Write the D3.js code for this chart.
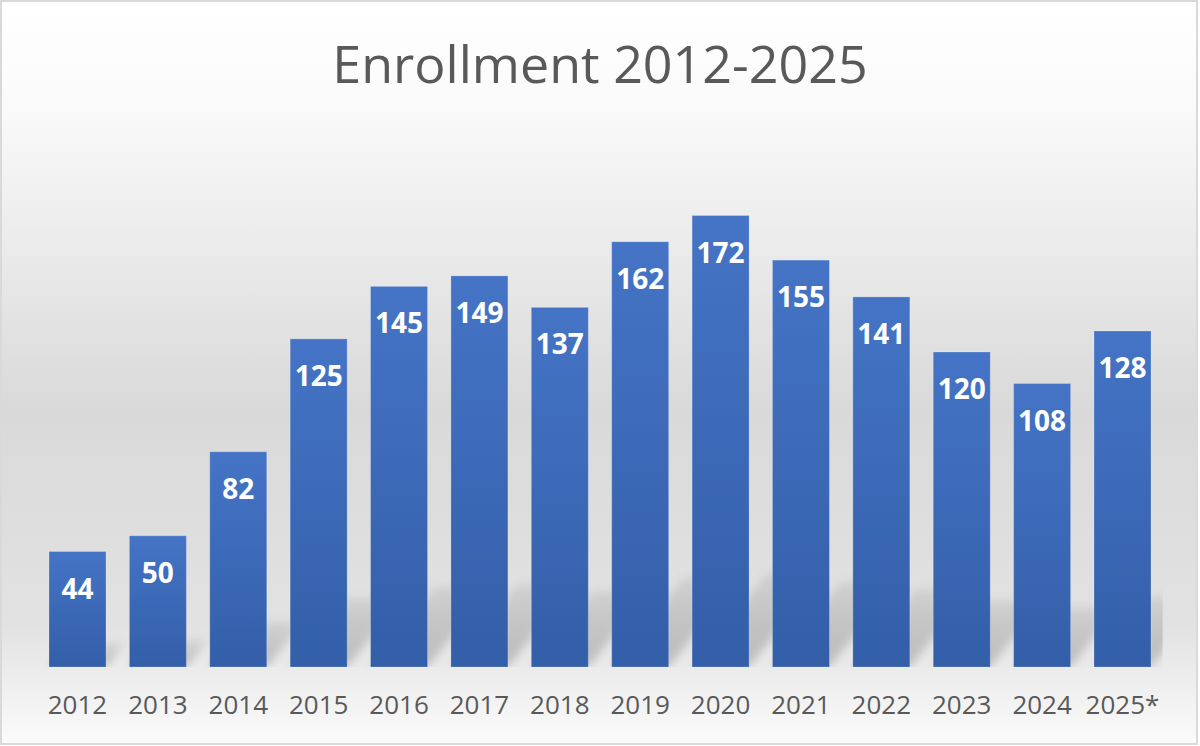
<!DOCTYPE html>
<html>
<head>
<meta charset="utf-8">
<script src="https://cdn.jsdelivr.net/npm/d3@7"></script>
<style>
    html, body { margin: 0; padding: 0; background: #ffffff; }
    svg { display: block; }
</style>
</head>
<body>
<svg id="enrollment-chart"></svg>
<script>
// Categories (years) shown along the X-axis
const years = ["2012", "2013", "2014", "2015", "2016", "2017", "2018", "2019", "2020", "2021", "2022", "2023", "2024", "2025*"];
// Enrollment value for each year
const enrollment = [44, 50, 82, 125, 145, 149, 137, 162, 172, 155, 141, 120, 108, 128];
// Value axis bounds (axis itself is hidden in the chart)
const value_domain = [0, 200];
const chart_title = "Enrollment 2012-2025";

// Build the bar dataset from the arrays above
const bar_data = years.map((year, i) => ({ year: year, value: enrollment[i] }));

// Configure the dimensions of the chart
const chart_width = 1200, chart_height = 746;
const plot = { left: 37.3, right: 1162.7, top: 142, bottom: 667 };

// Scales for the X-axis (years) and Y-axis (enrollment)
const x_scale = d3.scaleBand()
    .domain(years)
    .range([plot.left, plot.right])
    .paddingInner(0.291)
    .paddingOuter(0.1455);
const y_scale = d3.scaleLinear()
    .domain(value_domain)
    .range([plot.bottom, plot.top]);

// Create the chart container
const svg = d3.select("#enrollment-chart")
    .attr("width", chart_width)
    .attr("height", chart_height);

const defs = svg.append("defs");

// Chart background gradient (white -> grey -> white)
const bg_gradient = defs.append("linearGradient")
    .attr("id", "bg-gradient")
    .attr("x1", 0).attr("y1", 0).attr("x2", 0).attr("y2", 1);
[[0, "#ffffff"], [0.14, "#fafafa"], [0.55, "#d9d9d9"], [0.84, "#e2e2e2"], [1, "#fbfbfb"]]
    .forEach(s => bg_gradient.append("stop").attr("offset", s[0]).attr("stop-color", s[1]));

// Bar fill gradient
const bar_gradient = defs.append("linearGradient")
    .attr("id", "bar-gradient")
    .attr("x1", 0).attr("y1", 0).attr("x2", 0).attr("y2", 1);
bar_gradient.append("stop").attr("offset", 0).attr("stop-color", "#4574c6");
bar_gradient.append("stop").attr("offset", 1).attr("stop-color", "#335ea8");

// Shadow gradient (darker near the base)
const shadow_gradient = defs.append("linearGradient")
    .attr("id", "shadow-gradient")
    .attr("x1", 0).attr("y1", 1).attr("x2", 0).attr("y2", 0);
shadow_gradient.append("stop").attr("offset", 0).attr("stop-color", "#000").attr("stop-opacity", 0.2);
shadow_gradient.append("stop").attr("offset", 1).attr("stop-color", "#000").attr("stop-opacity", 0.07);

// Blur filter for the perspective shadows
defs.append("filter")
    .attr("id", "shadow-blur")
    .attr("x", "-50%").attr("y", "-50%").attr("width", "200%").attr("height", "200%")
    .append("feGaussianBlur")
    .attr("stdDeviation", 5);

// Clip the shadows to the plot area
defs.append("clipPath")
    .attr("id", "plot-clip")
    .append("rect")
    .attr("x", plot.left)
    .attr("y", plot.top)
    .attr("width", plot.right - plot.left)
    .attr("height", plot.bottom - plot.top);

// Background with the light border
svg.append("rect")
    .attr("x", 1)
    .attr("y", 1)
    .attr("width", 1196)
    .attr("height", 743)
    .attr("fill", "url(#bg-gradient)")
    .attr("stroke", "#d9d9d9")
    .attr("stroke-width", 2);

// Title
svg.append("text")
    .attr("x", 600)
    .attr("y", 83)
    .attr("text-anchor", "middle")
    .style("font-family", "'Open Sans', sans-serif")
    .style("font-size", "52px")
    .attr("fill", "#595959")
    .text(chart_title);

// Perspective shadows (squashed and skewed to the upper right)
const shadow_scale = 0.21, shadow_skew = 0.8;
svg.append("g")
    .attr("clip-path", "url(#plot-clip)")
    .append("g")
    .attr("filter", "url(#shadow-blur)")
    .selectAll("polygon")
    .data(bar_data)
    .enter()
    .append("polygon")
    .attr("fill", "url(#shadow-gradient)")
    .attr("points", d => {
        const x0 = x_scale(d.year), x1 = x0 + x_scale.bandwidth();
        const base = y_scale(0);
        const h = (base - y_scale(d.value)) * shadow_scale;
        const dx = h * shadow_skew;
        return [[x0, base], [x1, base], [x1 + dx, base - h], [x0 + dx, base - h]].join(" ");
    });

// Bars
svg.append("g")
    .selectAll("rect")
    .data(bar_data)
    .enter()
    .append("rect")
    .attr("x", d => x_scale(d.year))
    .attr("y", d => y_scale(d.value))
    .attr("width", x_scale.bandwidth())
    .attr("height", d => y_scale(0) - y_scale(d.value))
    .attr("fill", "url(#bar-gradient)")
    .attr("stroke", "rgba(255,255,255,0.22)")
    .attr("stroke-width", 1);

// Value labels inside the bar ends
svg.append("g")
    .selectAll("text")
    .data(bar_data)
    .enter()
    .append("text")
    .attr("x", d => x_scale(d.year) + x_scale.bandwidth() / 2)
    .attr("y", d => y_scale(d.value) + 47)
    .attr("text-anchor", "middle")
    .style("font-family", "'Open Sans', sans-serif")
    .style("font-weight", "bold")
    .style("font-size", "28px")
    .attr("fill", "#ffffff")
    .text(d => d.value);

// X-axis with the year labels
const x_axis = d3.axisBottom(x_scale).tickSize(0).tickPadding(29);
const x_axis_group = svg.append("g")
    .attr("transform", `translate(0, ${plot.bottom})`)
    .call(x_axis);
x_axis_group.select(".domain").remove();
x_axis_group.selectAll("text")
    .style("font-family", "'Open Sans', sans-serif")
    .style("font-size", "26px")
    .attr("fill", "#595959");
</script>
</body>
</html>
